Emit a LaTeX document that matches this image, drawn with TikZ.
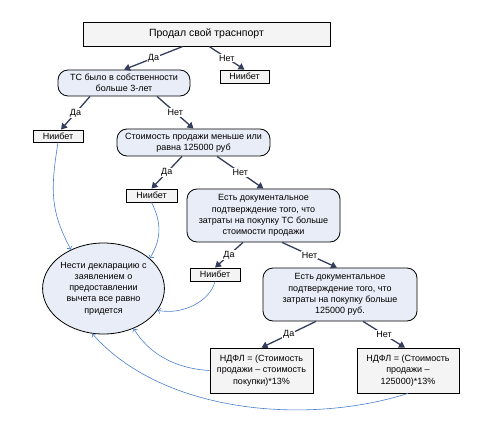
\documentclass[tikz,border=0pt]{standalone}
\usepackage{fontspec}
\setmainfont{Liberation Sans}
\usetikzlibrary{arrows.meta,shapes.geometric}
\definecolor{boxfill}{HTML}{E8EDF7}
\definecolor{leaffill}{HTML}{F4F4F4}
\definecolor{arrowcol}{HTML}{343D5C}
\definecolor{curvecol}{HTML}{4A7FCF}

\begin{document}
\begin{tikzpicture}[x=1pt, y=-1pt, font=\fontsize{9}{11.3}\selectfont,
	main/.style = {draw, rounded corners=10pt, fill=boxfill, line width=0.8pt, align=center, inner sep=0pt},
	leaf/.style = {draw, fill=leaffill, line width=0.8pt, align=center, inner sep=0pt},
	yes/.style = {draw=arrowcol, line width=1.3pt, -{Triangle[length=6pt,width=7pt]}},
	back/.style = {draw=curvecol, line width=0.6pt, -{To[length=3pt,width=6pt]}},
	lbl/.style = {fill=white, inner sep=1pt}]
	\useasboundingbox (0,0) rectangle (489,430);
	\node[leaf, minimum width=247pt, minimum height=24pt, font=\fontsize{10.5}{12}\selectfont] (1) at (206.5,34) {Продал свой траснпорт};
	\node[leaf, minimum width=49pt, minimum height=13pt] (2) at (244.5,76.5) {Ниибет};
	\node[main, minimum width=132pt, minimum height=26pt] (3) at (124,83) {ТС было в собственности\\больше 3-лет};
	\node[leaf, minimum width=50pt, minimum height=12pt] (4) at (58,136) {Ниибет};
	\node[main, minimum width=153pt, minimum height=27pt] (5) at (193.5,142.5) {Стоимость продажи меньше или\\равна 125000 руб};
	\node[leaf, minimum width=51pt, minimum height=13pt] (6) at (151.5,195.5) {Ниибет};
	\node[main, minimum width=153pt, minimum height=53pt] (7) at (263.5,215.5) {Есть документальное\\подтверждение того, что\\затраты на покупку ТС больше\\стоимости продажи};
	\node[leaf, minimum width=50pt, minimum height=13pt] (8) at (215,274.5) {Ниибет};
	\node[main, minimum width=154pt, minimum height=53pt] (9) at (340,294.5) {Есть документальное\\подтверждение того, что\\затраты на покупку больше\\125000 руб.};
	\node[leaf, minimum width=103pt, minimum height=45pt] (10) at (261.5,370.5) {НДФЛ = (Стоимость\\продажи – стоимость\\покупки)*13\%};
	\node[leaf, minimum width=102pt, minimum height=45pt] (11) at (408,370.5) {НДФЛ = (Стоимость\\продажи –\\125000)*13\%};
	\node[draw, ellipse, fill=boxfill, line width=0.8pt, align=center, inner sep=0pt, minimum width=113pt, minimum height=91pt] (12) at (103.5,288.5) {Нести декларацию с\\заявлением о\\предоставлении\\вычета все равно\\придется};

	% yes / no
	\draw[yes] ([xshift=-23.5pt]1.south) -- (3.north) node[lbl, midway] {Да};
	\draw[yes] ([xshift=2.5pt]1.south) -- (2.north) node[lbl, midway] {Нет};
	\draw[yes] ([xshift=-34pt]3.south) -- ([xshift=3pt]4.north) node[lbl, midway] {Да};
	\draw[yes] ([xshift=33pt]3.south) -- (5.north) node[lbl, midway] {Нет};
	\draw[yes] ([xshift=-11.5pt]5.south) -- (6.north) node[lbl, midway] {Да};
	\draw[yes] ([xshift=23.5pt]5.south) -- (7.north) node[lbl, midway] {Нет};
	\draw[yes] ([xshift=-20.5pt]7.south) -- (8.north) node[lbl, midway] {Да};
	\draw[yes] ([xshift=18.5pt]7.south) -- ([xshift=-3pt]9.north) node[lbl, midway] {Нет};
	\draw[yes] ([xshift=-24pt]9.south) -- (10.north) node[lbl, midway] {Да};
	\draw[yes] ([xshift=23pt]9.south) -- ([xshift=-3pt]11.north) node[lbl, midway] {Нет};

	% back to the declaration
	\draw[back] (4.south) .. controls +(-8,50) and +(-20,-38) .. (12.130);
	\draw[back] (6.south) .. controls +(10,20) and +(12,-20) .. (12.33);
	\draw[back] (8.south) .. controls +(-5,20) and +(25,5) .. (12.-22);
	\draw[back] (10.west) .. controls +(-35,-2) and +(15,25) .. (12.-53);
	\draw[back] (11.south) .. controls +(-100,32) and +(70,80) .. (12.-104);
\end{tikzpicture}
\end{document}
